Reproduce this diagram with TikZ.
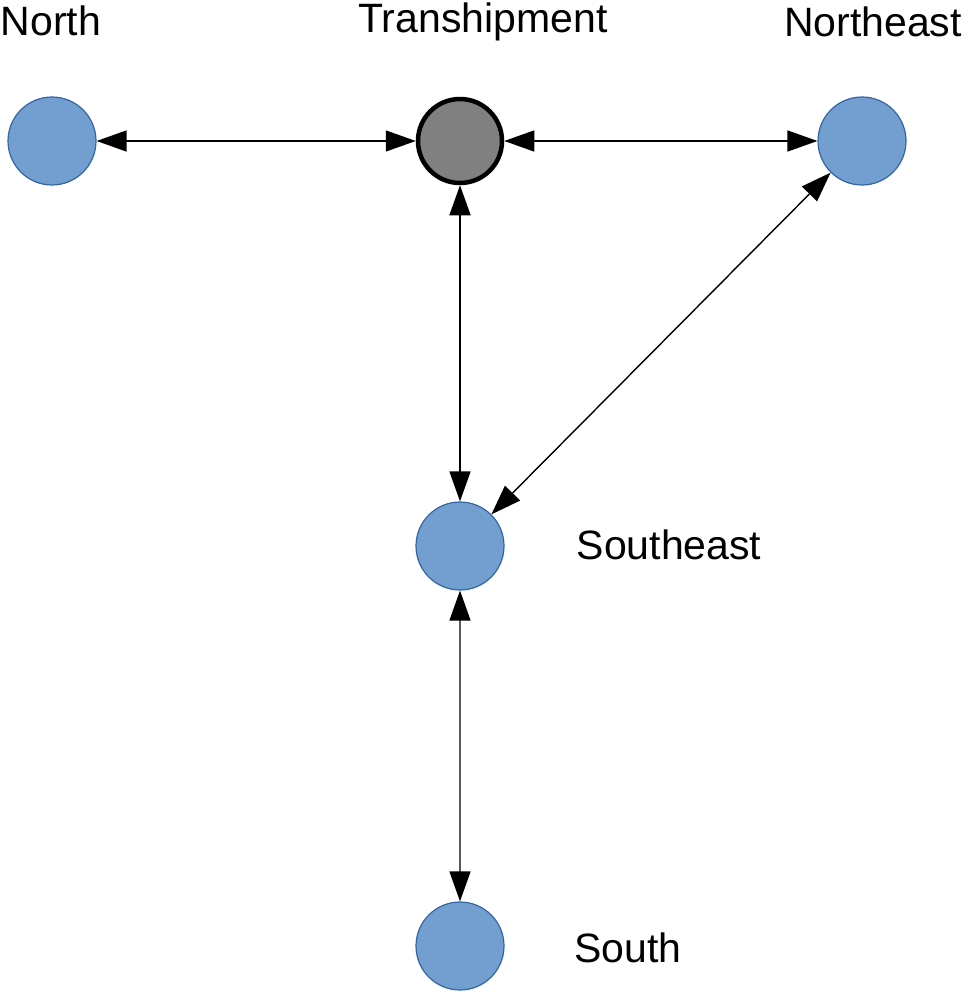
\documentclass[tikz,border=0pt]{standalone}
\usepackage{fontspec}
\setmainfont{Liberation Sans}
\usetikzlibrary{arrows.meta}
\definecolor{nodeblue}{HTML}{729FCF}
\definecolor{nodeline}{HTML}{3465A4}
\definecolor{hubgray}{HTML}{808080}
\begin{document}
\begin{tikzpicture}[x=1pt,y=-1pt,
  site/.style={circle,minimum size=88pt,inner sep=0pt,fill=nodeblue,draw=nodeline,line width=1.2pt},
  hub/.style={circle,minimum size=84pt,inner sep=0pt,fill=hubgray,draw=black,line width=4.5pt},
  lbl/.style={font=\fontsize{41}{48}\selectfont,inner sep=0pt},
  tip/.tip={Triangle[length=30pt,width=21pt,color=black]},
  link/.style={line width=1.4pt,tip-tip},
  glink/.style={link,draw=black!65}]
\useasboundingbox (0,0) rectangle (969,995);
\node[site] (north) at (52,141) {};
\node[hub] (trans) at (460,141) {};
\node[site] (ne) at (862,141) {};
\node[site] (se) at (460,546) {};
\node[site] (south) at (460,946) {};
\node[lbl] (lnorth) at (51,21) {North};
\node[lbl] (ltrans) at (483,22) {Transhipment};
\node[lbl] (lne) at (873,22) {Northeast};
\node[lbl] (lse) at (669,545) {Southeast};
\node[lbl] (lsouth) at (628,948) {South};
\draw[link] (north) -- (trans);
\draw[link] (trans) -- (ne);
\draw[link] (trans) -- (se);
\draw[link] (ne) -- (se);
\draw[glink] (se) -- (south);
\end{tikzpicture}
\end{document}
